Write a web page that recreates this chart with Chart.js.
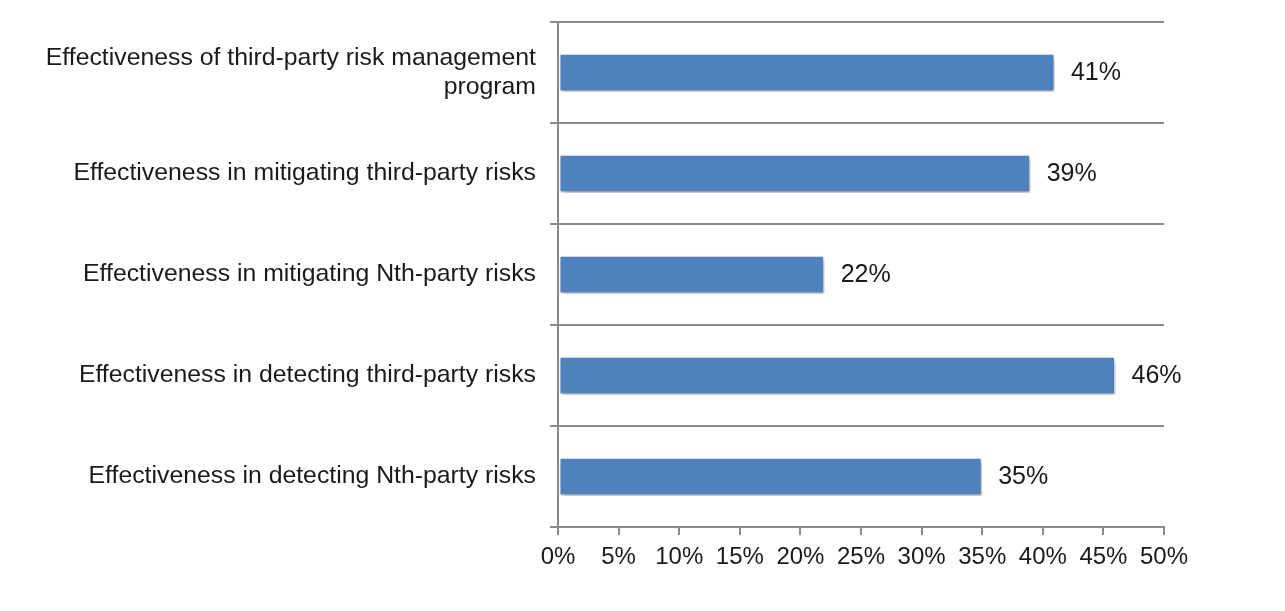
<!DOCTYPE html>
<html>
<head>
<meta charset="utf-8">
<script src="https://cdn.jsdelivr.net/npm/chart.js@4"></script>
<style>
html,body{margin:0;padding:0;background:#fff;}
#wrap{width:1285px;height:611px;position:relative;}
</style>
</head>
<body>
<div id="wrap"><canvas id="c" width="1285" height="611"></canvas></div>
<script>
const categories = [
  ["Effectiveness of third-party risk management", "program"],
  "Effectiveness in mitigating third-party risks",
  "Effectiveness in mitigating Nth-party risks",
  "Effectiveness in detecting third-party risks",
  "Effectiveness in detecting Nth-party risks"
];
const values = [41, 39, 22, 46, 35];
const xMax = 50;
const xStep = 5;

const FONT = "'Liberation Sans', Arial, sans-serif";
const GRID = '#8a8a8a';

const shadowPlugin = {
  id: 'barShadow',
  beforeDatasetsDraw(chart) {
    const ctx = chart.ctx;
    ctx.save();
    ctx.shadowColor = 'rgba(0,0,0,0.35)';
    ctx.shadowBlur = 4;
    ctx.shadowOffsetX = 1;
    ctx.shadowOffsetY = 3;
  },
  afterDatasetsDraw(chart) {
    chart.ctx.restore();
  }
};

const labelPlugin = {
  id: 'valueLabels',
  afterDatasetsDraw(chart) {
    const ctx = chart.ctx;
    const meta = chart.getDatasetMeta(0);
    ctx.save();
    ctx.font = '25px ' + FONT;
    ctx.fillStyle = '#1a1a1a';
    ctx.textAlign = 'left';
    ctx.textBaseline = 'middle';
    meta.data.forEach((bar, i) => {
      ctx.fillText(values[i] + '%', bar.x + 16, bar.y + 1);
    });
    ctx.restore();
  }
};

new Chart(document.getElementById('c'), {
  type: 'bar',
  data: {
    labels: categories,
    datasets: [{
      data: values,
      backgroundColor: '#4f81bd',
      borderColor: '#ffffff',
      borderWidth: 1.5,
      borderSkipped: false,
      barPercentage: 0.38,
      categoryPercentage: 1.0
    }]
  },
  options: {
    indexAxis: 'y',
    responsive: false,
    animation: false,
    devicePixelRatio: 1,
    layout: { autoPadding: false, padding: { left: 0, right: 121, top: 22, bottom: 0 } },
    plugins: {
      legend: { display: false },
      tooltip: { enabled: false }
    },
    scales: {
      x: {
        min: 0,
        max: xMax,
        ticks: {
          stepSize: xStep,
          color: '#1a1a1a',
          font: { family: FONT, size: 24 },
          padding: 8,
          callback: v => v + '%'
        },
        grid: {
          drawOnChartArea: false,
          drawTicks: true,
          tickLength: 8,
          color: GRID,
          lineWidth: 2
        },
        border: { display: true, color: GRID, width: 2 },
        afterFit(scale) { scale.height = 84; scale.paddingLeft = 0; scale.paddingRight = 0; }
      },
      y: {
        offset: true,
        ticks: {
          color: '#1a1a1a',
          font: { family: FONT, size: 24.8, lineHeight: 1.18 },
          padding: 14
        },
        grid: {
          offset: true,
          drawOnChartArea: true,
          drawTicks: true,
          tickLength: 8,
          color: GRID,
          lineWidth: 2
        },
        border: { display: true, color: GRID, width: 2 },
        afterFit(scale) { scale.width = 558; scale.paddingTop = 0; scale.paddingBottom = 0; }
      }
    }
  },
  plugins: [shadowPlugin, labelPlugin]
});
</script>
</body>
</html>
